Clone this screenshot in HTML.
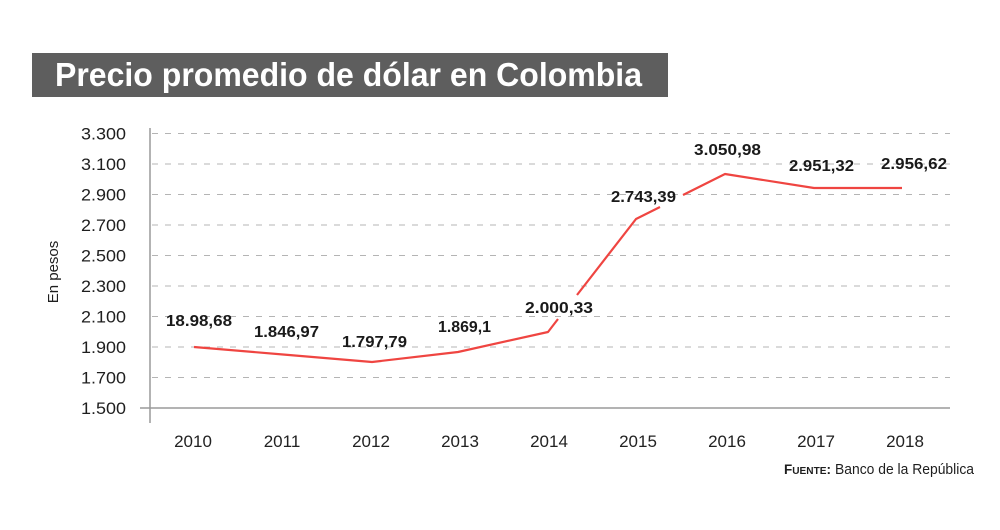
<!DOCTYPE html>
<html>
<head>
<meta charset="utf-8">
<style>
  html, body { margin:0; padding:0; background:#ffffff; }
  svg { display:block; }
  text { font-family: "Liberation Sans", "DejaVu Sans", sans-serif; }
</style>
</head>
<body>
<svg width="1000" height="530" viewBox="0 0 1000 530" xmlns="http://www.w3.org/2000/svg">
  <rect x="0" y="0" width="1000" height="530" fill="#ffffff"/>

  <!-- Title -->
  <rect x="32" y="53" width="636" height="44" fill="#5e5e5e"/>
  <text x="55" y="86" font-size="33" font-weight="bold" fill="#ffffff" textLength="587" lengthAdjust="spacingAndGlyphs">Precio promedio de dólar en Colombia</text>

  <!-- Gridlines -->
  <g stroke="#b4b4b4" stroke-width="1" stroke-dasharray="6,7" fill="none">
    <line x1="152" y1="133.5" x2="950" y2="133.5"/>
    <line x1="152" y1="164" x2="950" y2="164"/>
    <line x1="152" y1="194.5" x2="950" y2="194.5"/>
    <line x1="152" y1="225" x2="950" y2="225"/>
    <line x1="152" y1="255.5" x2="950" y2="255.5"/>
    <line x1="152" y1="286" x2="950" y2="286"/>
    <line x1="152" y1="316.5" x2="950" y2="316.5"/>
    <line x1="152" y1="347" x2="950" y2="347"/>
    <line x1="152" y1="377.5" x2="950" y2="377.5"/>
  </g>

  <!-- Axes -->
  <line x1="150" y1="128" x2="150" y2="423" stroke="#9a9a9a" stroke-width="1.5"/>
  <line x1="140" y1="408" x2="950" y2="408" stroke="#9a9a9a" stroke-width="1.5"/>

  <!-- Y tick labels -->
  <g font-size="17" fill="#1e1e1e">
    <text x="81" y="139.5" textLength="45" lengthAdjust="spacingAndGlyphs">3.300</text>
    <text x="81" y="170" textLength="45" lengthAdjust="spacingAndGlyphs">3.100</text>
    <text x="81" y="200.5" textLength="45" lengthAdjust="spacingAndGlyphs">2.900</text>
    <text x="81" y="231" textLength="45" lengthAdjust="spacingAndGlyphs">2.700</text>
    <text x="81" y="261.5" textLength="45" lengthAdjust="spacingAndGlyphs">2.500</text>
    <text x="81" y="292" textLength="45" lengthAdjust="spacingAndGlyphs">2.300</text>
    <text x="81" y="322.5" textLength="45" lengthAdjust="spacingAndGlyphs">2.100</text>
    <text x="81" y="353" textLength="45" lengthAdjust="spacingAndGlyphs">1.900</text>
    <text x="81" y="383.5" textLength="45" lengthAdjust="spacingAndGlyphs">1.700</text>
    <text x="81" y="414" textLength="45" lengthAdjust="spacingAndGlyphs">1.500</text>
  </g>

  <!-- Y axis title -->
  <text x="0" y="0" font-size="15" fill="#1e1e1e" text-anchor="middle" transform="translate(58,272) rotate(-90)">En pesos</text>

  <!-- X labels -->
  <g font-size="17" fill="#222222" text-anchor="middle">
    <text x="193" y="447">2010</text>
    <text x="282" y="447">2011</text>
    <text x="371" y="447">2012</text>
    <text x="460" y="447">2013</text>
    <text x="549" y="447">2014</text>
    <text x="638" y="447">2015</text>
    <text x="727" y="447">2016</text>
    <text x="816" y="447">2017</text>
    <text x="905" y="447">2018</text>
  </g>

  <!-- Data line -->
  <g stroke="#ef4541" stroke-width="2.2" fill="none" stroke-linejoin="round" stroke-linecap="butt">
    <path d="M194,347 L283,354.5 L372,362 L458,352 L548,332 L558,319"/>
    <path d="M577,295 L636,219 L660,207"/>
    <path d="M683,195 L725,174 L814,188 L902,188"/>
  </g>

  <!-- Data labels -->
  <g font-size="16" font-weight="bold" fill="#1a1a1a">
    <text x="166" y="326" textLength="66" lengthAdjust="spacingAndGlyphs">18.98,68</text>
    <text x="254" y="337" textLength="65" lengthAdjust="spacingAndGlyphs">1.846,97</text>
    <text x="342" y="347" textLength="65" lengthAdjust="spacingAndGlyphs">1.797,79</text>
    <text x="438" y="332" textLength="53" lengthAdjust="spacingAndGlyphs">1.869,1</text>
    <text x="525" y="313" textLength="68" lengthAdjust="spacingAndGlyphs">2.000,33</text>
    <text x="611" y="202" textLength="65" lengthAdjust="spacingAndGlyphs">2.743,39</text>
    <text x="694" y="155" textLength="67" lengthAdjust="spacingAndGlyphs">3.050,98</text>
    <text x="789" y="171" textLength="65" lengthAdjust="spacingAndGlyphs">2.951,32</text>
    <text x="881" y="169" textLength="66" lengthAdjust="spacingAndGlyphs">2.956,62</text>
  </g>

  <!-- Source -->
  <text x="784" y="474" font-weight="bold" fill="#1e1e1e" textLength="47" lengthAdjust="spacingAndGlyphs"><tspan font-size="14">F</tspan><tspan font-size="10.5">UENTE</tspan><tspan font-size="14">:</tspan></text>
  <text x="835" y="474" font-size="15" fill="#1e1e1e" textLength="139" lengthAdjust="spacingAndGlyphs">Banco de la República</text>
</svg>
</body>
</html>
